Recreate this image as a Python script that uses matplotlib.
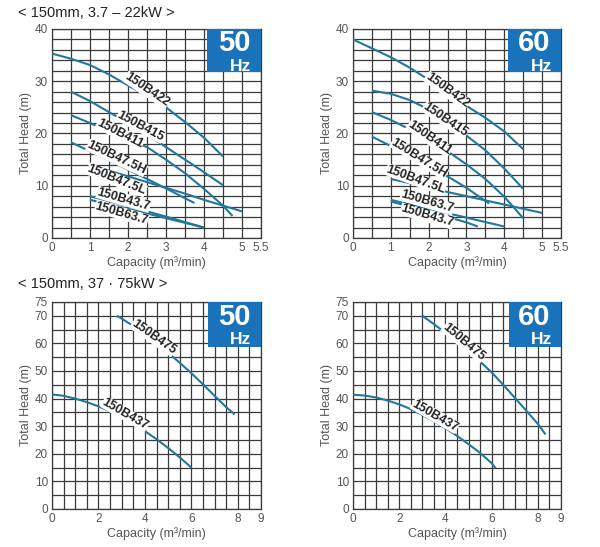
import matplotlib.pyplot as plt
from matplotlib.patches import Rectangle

plt.rcParams['font.family'] = ['Liberation Sans', 'DejaVu Sans']

# ---- data: < 150mm, 3.7 - 22kW >, 50 Hz ----
q422_50 = [0, 0.5, 1, 1.5, 2, 2.5, 3, 3.5, 4, 4.5]
h422_50 = [35.3, 34.3, 33.1, 31.3, 29.2, 27.2, 25.0, 22.2, 19.2, 15.6]
q415_50 = [0.5, 1, 1.5, 2, 2.5, 3, 3.5, 4, 4.5]
h415_50 = [28.0, 26.2, 24.1, 22.0, 19.8, 17.4, 15.0, 12.6, 10.1]
q411_50 = [0.5, 1, 1.5, 2, 2.5, 3, 3.5, 4, 4.5, 4.75]
h411_50 = [23.5, 22.0, 20.4, 18.8, 17.4, 15.0, 12.4, 9.4, 6.2, 4.2]
q475h_50 = [0.5, 1, 1.5, 2, 2.5, 3, 3.5, 3.75]
h475h_50 = [18.3, 16.6, 14.9, 13.1, 11.3, 9.5, 7.6, 6.7]
q475l_50 = [1, 1.5, 2, 2.5, 3, 3.5, 4, 4.5, 5]
h475l_50 = [14.0, 12.9, 11.8, 10.7, 9.6, 8.5, 7.3, 6.2, 5.1]
q437_50 = [1, 2, 3, 4]
h437_50 = [8.0, 6.1, 4.1, 2.0]
q637_50 = [1, 2, 3, 4]
h637_50 = [7.3, 5.6, 3.8, 2.0]

# ---- data: < 150mm, 3.7 - 22kW >, 60 Hz ----
q422_60 = [0, 0.5, 1, 1.5, 2, 2.5, 3, 3.5, 4, 4.5]
h422_60 = [38.0, 36.3, 34.6, 32.6, 30.3, 27.8, 25.3, 23.0, 20.4, 17.0]
q415_60 = [0.5, 1, 1.5, 2, 2.5, 3, 3.5, 4, 4.5]
h415_60 = [28.2, 27.6, 26.4, 24.6, 22.3, 19.6, 16.8, 13.3, 9.4]
q411_60 = [0.5, 1, 1.5, 2, 2.5, 3, 3.5, 4, 4.5]
h411_60 = [24.1, 22.6, 20.8, 18.8, 16.6, 14.1, 11.3, 7.9, 3.8]
q475h_60 = [0.5, 1, 1.5, 2, 2.5, 3, 3.5, 3.6]
h475h_60 = [19.4, 17.6, 15.8, 13.9, 11.8, 9.6, 7.1, 6.6]
q475l_60 = [1, 1.5, 2, 2.5, 3, 3.5, 4, 4.5, 5]
h475l_60 = [11.3, 10.5, 9.6, 8.8, 8.0, 7.2, 6.4, 5.6, 4.8]
q637_60 = [1, 2, 3, 4]
h637_60 = [7.3, 5.6, 3.9, 2.2]
q437_60 = [1, 2, 3, 3.3]
h437_60 = [7.0, 5.0, 3.0, 2.2]

# ---- data: < 150mm, 37 - 75kW > ----
q4475_50 = [2.8, 3, 3.5, 4, 4.5, 5, 5.5, 6, 6.5, 7, 7.5, 7.86]
h4475_50 = [70.0, 69.0, 66.3, 63.3, 60.1, 56.6, 53.0, 49.2, 45.2, 41.0, 36.9, 34.3]
q4437_50 = [0, 0.5, 1, 1.5, 2, 2.5, 3, 3.5, 4, 4.5, 5, 5.5, 6]
h4437_50 = [41.5, 41.0, 40.0, 38.7, 37.2, 35.4, 33.2, 30.8, 28.2, 25.3, 22.1, 18.7, 15.0]
q4475_60 = [3, 3.5, 4, 4.5, 5, 5.5, 6, 6.5, 7, 7.5, 8, 8.33]
h4475_60 = [70.0, 67.0, 63.8, 60.5, 57.0, 53.4, 49.5, 45.0, 40.3, 35.6, 30.8, 27.0]
q4437_60 = [0, 0.5, 1, 1.5, 2, 2.5, 3, 3.5, 4, 4.5, 5, 5.5, 6, 6.17]
h4437_60 = [41.4, 41.1, 40.4, 39.3, 37.9, 36.2, 34.1, 31.8, 29.3, 26.5, 23.5, 20.3, 16.6, 14.8]

top_xticks = [0, 1, 2, 3, 4, 5, 5.5]
top_xlabels = ['0', '1', '2', '3', '4', '5', '5.5']
top_yticks = [0, 10, 20, 30, 40]
bot_xticks = [0, 2, 4, 6, 8, 9]
bot_xlabels = ['0', '2', '4', '6', '8', '9']
bot_yticks = [0, 10, 20, 30, 40, 50, 60, 70, 75]

LINE = '#22779a'
BLUE = '#1a73ba'
GRID = '#3a3a3a'
TICK = '#555555'

fig = plt.figure(figsize=(6, 5.47), dpi=100)
ax1 = fig.add_axes([0.0867, 0.5649, 0.3483, 0.3821])
ax2 = fig.add_axes([0.5883, 0.5649, 0.3467, 0.3821])
ax3 = fig.add_axes([0.0867, 0.0695, 0.3483, 0.3784])
ax4 = fig.add_axes([0.5883, 0.0695, 0.3467, 0.3784])


def setup(ax, xmax, xticks, xlabels, ymax, yticks, xstep, ystep):
    ax.set_xlim(0, xmax)
    ax.set_ylim(0, ymax)
    ax.set_xticks(xticks)
    ax.set_xticklabels(xlabels)
    ax.set_yticks(yticks)
    n = int(round(xmax / xstep))
    ax.set_xticks([i * xstep for i in range(n + 1)], minor=True)
    m = int(round(ymax / ystep))
    ax.set_yticks([i * ystep for i in range(m + 1)], minor=True)
    ax.grid(which='both', color=GRID, lw=0.9)
    ax.set_axisbelow(True)
    ax.tick_params(which='both', length=0, labelsize=8.5, labelcolor=TICK, pad=3)
    for s in ax.spines.values():
        s.set_color(GRID)
        s.set_linewidth(0.9)
    ax.set_xlabel('Capacity (m³/min)', fontsize=9, color=TICK, labelpad=1.5)
    ax.set_ylabel('Total Head (m)', fontsize=9, color=TICK, labelpad=2)


def badge(ax, hz, x0, y0, y50, yhz):
    ax.add_patch(Rectangle((x0, y0), 1 - x0, 1 - y0, transform=ax.transAxes,
                           facecolor=BLUE, edgecolor='none', zorder=3))
    ax.text(0.871, y50, hz, transform=ax.transAxes, color='white', fontsize=21,
            fontweight='bold', ha='center', va='baseline', zorder=4)
    ax.text(0.955, yhz, 'Hz', transform=ax.transAxes, color='white', fontsize=12.5,
            fontweight='bold', ha='right', va='baseline', zorder=4)


def curve(ax, q, h, name, lx, ly, rot):
    ax.plot(q, h, color=LINE, lw=1.5, zorder=5, solid_capstyle='butt')
    ax.text(lx, ly, name, rotation=rot, rotation_mode='anchor', ha='center',
            va='center', fontsize=9, fontweight='bold', color='#222222', zorder=6,
            bbox=dict(facecolor='white', edgecolor='none', pad=0.2))


setup(ax1, 5.5, top_xticks, top_xlabels, 40, top_yticks, 0.5, 2)
setup(ax2, 5.5, top_xticks, top_xlabels, 40, top_yticks, 0.5, 2)
setup(ax3, 9, bot_xticks, bot_xlabels, 75, bot_yticks, 0.5, 5)
setup(ax4, 9, bot_xticks, bot_xlabels, 75, bot_yticks, 0.5, 5)

badge(ax1, '50', 0.743, 0.792, 0.895, 0.801)
badge(ax2, '60', 0.743, 0.792, 0.895, 0.801)
badge(ax3, '50', 0.748, 0.782, 0.890, 0.7947)
badge(ax4, '60', 0.748, 0.782, 0.890, 0.7947)

curve(ax1, q422_50, h422_50, '150B422', 2.49, 28.3, -34)
curve(ax1, q415_50, h415_50, '150B415', 2.33, 21.4, -28)
curve(ax1, q411_50, h411_50, '150B411', 1.79, 20.0, -27)
curve(ax1, q475h_50, h475h_50, '150B47.5H', 1.70, 15.3, -25)
curve(ax1, q475l_50, h475l_50, '150B47.5L', 1.70, 11.1, -22)
curve(ax1, q437_50, h437_50, '150B43.7', 1.88, 7.4, -16)
curve(ax1, q637_50, h637_50, '150B63.7', 1.83, 4.7, -16)

curve(ax2, q422_60, h422_60, '150B422', 2.49, 28.2, -36)
curve(ax2, q415_60, h415_60, '150B415', 2.44, 22.6, -34)
curve(ax2, q411_60, h411_60, '150B411', 2.02, 19.1, -35)
curve(ax2, q475h_60, h475h_60, '150B47.5H', 1.75, 15.3, -32)
curve(ax2, q475l_60, h475l_60, '150B47.5L', 1.66, 11.2, -20)
curve(ax2, q637_60, h637_60, '150B63.7', 1.96, 6.9, -16)
curve(ax2, q437_60, h437_60, '150B43.7', 1.96, 4.2, -16)

curve(ax3, q4475_50, h4475_50, '150B475', 4.37, 62.2, -35)
curve(ax3, q4437_50, h4437_50, '150B437', 3.15, 34.4, -30)
curve(ax4, q4475_60, h4475_60, '150B475', 4.80, 60.4, -40)
curve(ax4, q4437_60, h4437_60, '150B437', 3.55, 33.8, -30)

fig.text(18 / 600, 1 - 13 / 547, '< 150mm, 3.7 – 22kW >', fontsize=10.5,
         color='#222222', va='center')
fig.text(18 / 600, 1 - 284 / 547, '< 150mm, 37 · 75kW >', fontsize=10.5,
         color='#222222', va='center')

fig.savefig('out.png', dpi=100)
